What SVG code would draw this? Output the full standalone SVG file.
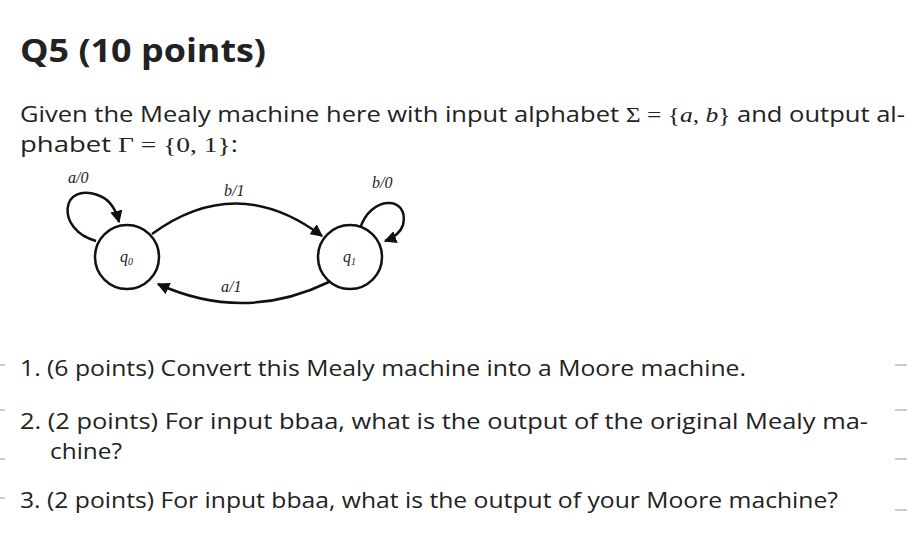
<svg xmlns="http://www.w3.org/2000/svg" width="907" height="543" viewBox="0 0 907 543">
<style>
.t{font-family:"Open Sans","DejaVu Sans",sans-serif;font-size:22px;fill:#222}
.m{font-family:"Liberation Serif",serif;font-style:italic;font-size:16px;fill:#222}
.n{fill:#fff;stroke:#111;stroke-width:2.5}
.e{fill:none;stroke:#111;stroke-width:2.5}
.tick{stroke:#999;stroke-width:1}
</style>
<defs><marker id="a" viewBox="0 0 10 10" refX="9" refY="5" markerWidth="5" markerHeight="5" orient="auto"><path d="M0,0 L10,5 L0,10 z" fill="#111"/></marker></defs>
<rect width="907" height="543" fill="#fff"/>
<text x="20" y="62" class="t" style="font-size:32px;font-weight:bold" textLength="246" lengthAdjust="spacingAndGlyphs">Q5 (10 points)</text>
<text x="20" y="122" class="t" textLength="885" lengthAdjust="spacingAndGlyphs">Given the Mealy machine here with input alphabet <tspan font-family="Liberation Serif">Σ = {<tspan font-style="italic">a</tspan>, <tspan font-style="italic">b</tspan>}</tspan> and output al-</text>
<text x="20" y="152" class="t" textLength="218" lengthAdjust="spacingAndGlyphs">phabet <tspan font-family="Liberation Serif">Γ = {0, 1}</tspan>:</text>
<g id="connectors">
<path class="e" d="M152,234 Q237,172 322,236" marker-end="url(#a)"/>
<path class="e" d="M329,282 Q244,323 158,284" marker-end="url(#a)"/>
<path class="e" d="M96,241 C55,230 60,180 100,196 C110,200 116,210 119,222" marker-end="url(#a)"/>
<path class="e" d="M360,229 C370,195 410,195 403,225 C400,234 393,238 385,241" marker-end="url(#a)"/>
</g>
<g id="q0"><circle class="n" cx="127" cy="257" r="32"/><text x="120" y="262" class="m" font-size="15">q<tspan font-size="10" dy="3">0</tspan></text></g>
<g id="q1"><circle class="n" cx="350" cy="257" r="32"/><text x="343" y="262" class="m" font-size="15">q<tspan font-size="10" dy="3">1</tspan></text></g>
<g id="labels">
<text x="68" y="183" class="m">a/0</text>
<text x="224" y="196" class="m">b/1</text>
<text x="372" y="188" class="m">b/0</text>
<text x="221" y="292" class="m">a/1</text>
</g>
<text x="20" y="376" class="t" textLength="726" lengthAdjust="spacingAndGlyphs">1. (6 points) Convert this Mealy machine into a Moore machine.</text>
<text x="20" y="429" class="t" textLength="848" lengthAdjust="spacingAndGlyphs">2. (2 points) For input bbaa, what is the output of the original Mealy ma-</text>
<text x="50" y="459" class="t" textLength="72" lengthAdjust="spacingAndGlyphs">chine?</text>
<text x="20" y="508" class="t" textLength="818" lengthAdjust="spacingAndGlyphs">3. (2 points) For input bbaa, what is the output of your Moore machine?</text>
<g class="tick">
<line x1="895" y1="365" x2="907" y2="365"/><line x1="895" y1="410" x2="907" y2="410"/>
<line x1="895" y1="459" x2="907" y2="459"/><line x1="895" y1="510" x2="907" y2="510"/>
<line x1="0" y1="365" x2="5" y2="365"/><line x1="0" y1="410" x2="5" y2="410"/><line x1="0" y1="459" x2="5" y2="459"/><line x1="0" y1="498" x2="5" y2="498"/>
</g>
</svg>
